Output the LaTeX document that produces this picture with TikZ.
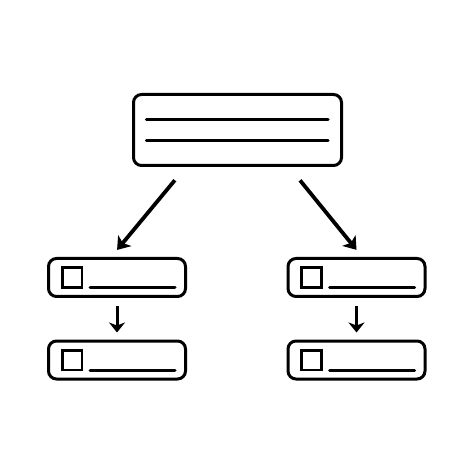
\documentclass[tikz,border=0pt]{standalone}
\usetikzlibrary{arrows.meta,calc}
\tikzset{
  box/.style={draw=black, line width=1.5pt, rounded corners=4pt, fill=white, inner sep=0pt},
  bigbox/.style={box, minimum width=104pt, minimum height=35.5pt},
  smallbox/.style={box, minimum width=68.5pt, minimum height=19pt},
  inline/.style={line width=1.6pt, line cap=round},
  sq/.style={draw=black, line width=1.3pt, minimum width=9.8pt, minimum height=9.8pt, inner sep=0pt},
  arr/.style={line width=1.9pt, -{Stealth[length=6pt,width=8.5pt,inset=1.5pt]}},
  sarr/.style={line width=1.5pt, -{Stealth[length=5pt,width=8pt,inset=1.5pt]}}
}
\begin{document}
\begin{tikzpicture}[x=0.5pt,y=-0.5pt]
\useasboundingbox (0,0) rectangle (474,474);
\fill[white] (0,0) rectangle (474,474);
% top box
\node[bigbox] (top) at (237.5,130) {};
\draw[inline] ($(top.center)+(-91,-10.5)$) -- ($(top.center)+(90.5,-10.5)$);
\draw[inline] ($(top.center)+(-91,10.5)$) -- ($(top.center)+(90.5,10.5)$);
% lower boxes
\node[smallbox] (l1) at (117,277.5) {};
\node[smallbox] (l2) at (117,360) {};
\node[smallbox] (r1) at (356.5,277.5) {};
\node[smallbox] (r2) at (356.5,360) {};
\foreach \b in {l1,l2,r1,r2}{
  \node[sq] (\b sq) at ($(\b.center)+(-45,0)$) {};
  \draw[inline, line width=1.5pt] ($(\b.center)+(-27,10)$) -- ($(\b.center)+(58,10)$);
}
% arrows
\draw[arr, shorten <=8.6pt, shorten >=4.6pt] ([xshift=-25.85pt]top.south) -- ([xshift=-2.9pt]l1.north);
\draw[arr, shorten <=8.6pt, shorten >=4.6pt] ([xshift=25.85pt]top.south) -- ([xshift=2.9pt]r1.north);
\draw[sarr, shorten <=4.25pt, shorten >=3.5pt] (l1.south) -- (l2.north);
\draw[sarr, shorten <=4.25pt, shorten >=3.5pt] (r1.south) -- (r2.north);
\end{tikzpicture}
\end{document}
